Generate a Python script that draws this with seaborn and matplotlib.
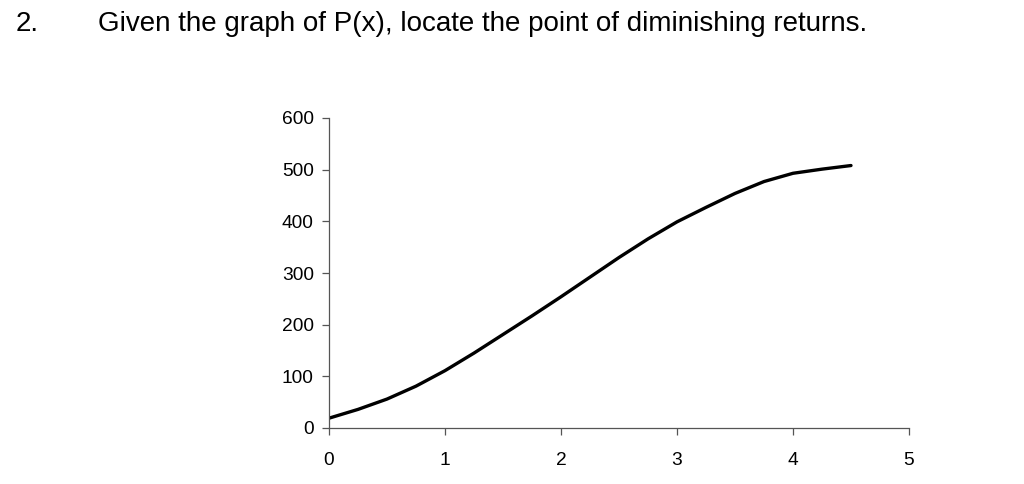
import matplotlib
matplotlib.use("Agg")
import matplotlib.pyplot as plt
import seaborn as sns
import pandas as pd

x_values = [0, 0.25, 0.5, 0.75, 1.0, 1.25, 1.5, 1.75, 2.0, 2.25, 2.5, 2.75, 3.0, 3.25, 3.5, 3.75, 4.0, 4.25, 4.5]
p_values = [19, 36, 56, 81, 111, 145, 181, 217, 254, 292, 330, 366, 399, 427, 454, 477, 493, 501, 508]
x_ticks = [0, 1, 2, 3, 4, 5]
y_ticks = [0, 100, 200, 300, 400, 500, 600]

sns.set_theme(style="white")
plt.rcParams['font.family'] = ['Liberation Sans', 'DejaVu Sans']

df = pd.DataFrame({"x": x_values, "P": p_values})

fig = plt.figure(figsize=(10.24, 4.84), dpi=100)
ax = fig.add_axes([329/1024, 1-428/484, (909-329)/1024, (428-118)/484])
sns.lineplot(data=df, x="x", y="P", ax=ax, color="black", linewidth=2.4)

ax.set_xlim(0, 5)
ax.set_ylim(0, 600)
ax.set_xticks(x_ticks)
ax.set_yticks(y_ticks)
ax.set_xlabel("")
ax.set_ylabel("")
for s in ["top", "right"]:
    ax.spines[s].set_visible(False)
for s in ["left", "bottom"]:
    ax.spines[s].set_color("#555555")
    ax.spines[s].set_linewidth(0.9)
ax.tick_params(axis="y", direction="out", length=5, width=0.9, color="#555555", labelsize=13.8, pad=6, left=True)
ax.tick_params(axis="x", direction="out", length=5, width=0.9, color="#555555", labelsize=13.8, pad=12, bottom=True)
for lab in ax.get_xticklabels() + ax.get_yticklabels():
    lab.set_color("black")

fig.text(16/1024, 1-24/484, "2.", fontsize=20, va="center", ha="left", color="black")
fig.text(98/1024, 1-24/484, "Given the graph of P(x), locate the point of diminishing returns.",
         fontsize=20, va="center", ha="left", color="black")

fig.savefig("out.png", dpi=100)
